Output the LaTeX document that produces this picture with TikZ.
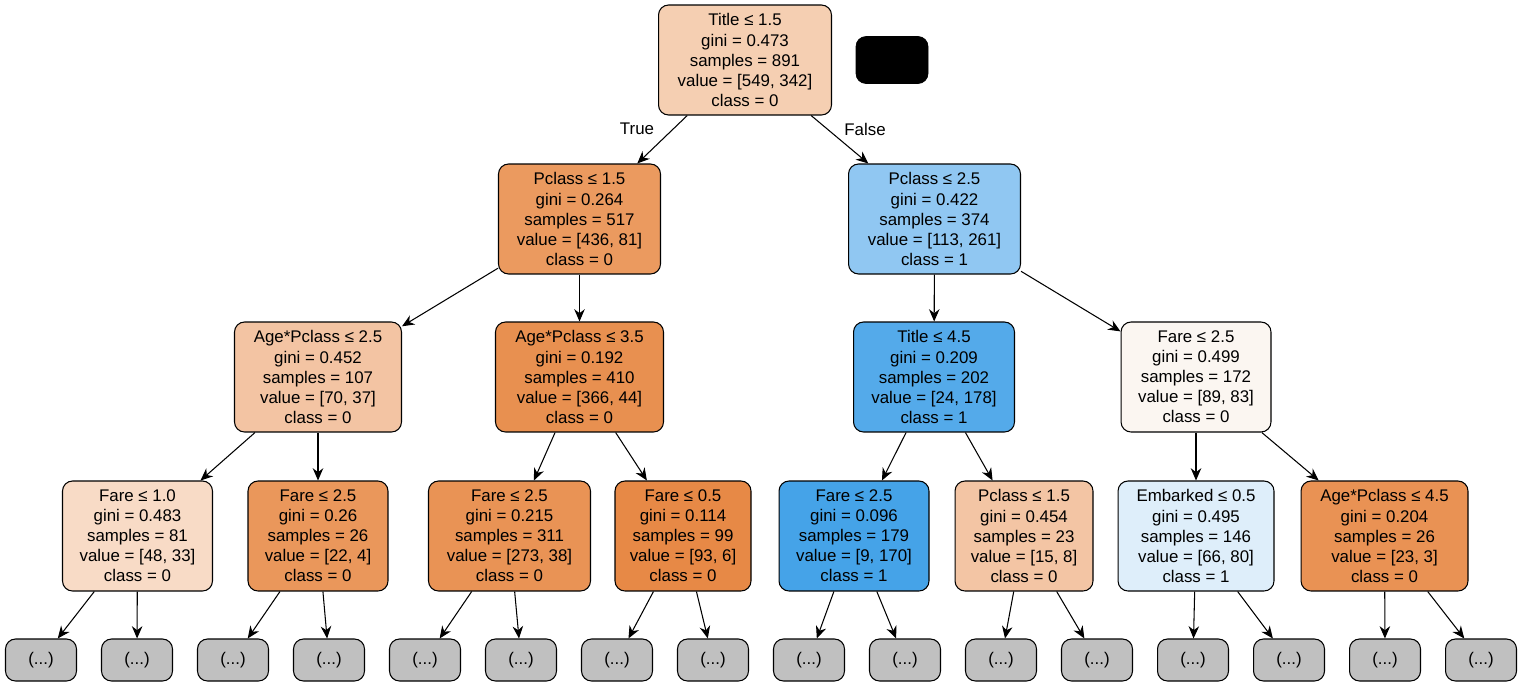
\documentclass[tikz,border=0pt]{standalone}
\usepackage{fontspec}
\setmainfont{Liberation Sans}
\usetikzlibrary{arrows.meta}
\begin{document}
\begin{tikzpicture}[x=0.02cm,y=-0.02cm,
 box/.style={draw,rounded corners=0.2cm,line width=0.6pt,align=center,minimum height=2.2cm,inner sep=1pt,font=\fontsize{9.6}{11.4}\selectfont},
 leaf/.style={draw,rounded corners=0.2cm,line width=0.6pt,fill=lg,minimum width=1.42cm,minimum height=0.84cm,font=\fontsize{9.6}{11.4}\selectfont},
 e/.style={-{Stealth[length=7pt,width=6pt]},line width=0.6pt},
 lab/.style={font=\fontsize{9.6}{11.4}\selectfont}]
\definecolor{lg}{HTML}{C0C0C0}
\useasboundingbox (0,0) rectangle (1523,693);
\node[box,fill={rgb,255:red,245;green,207;blue,178},minimum width=3.46cm] (n0) at (745,60) {Title ≤ 1.5\\gini = 0.473\\samples = 891\\value = [549, 342]\\class = 0};
\node[draw,fill=black,rounded corners=0.2cm,minimum width=1.44cm,minimum height=0.94cm] (blk) at (892,60) {};
\node[box,fill={rgb,255:red,235;green,154;blue,95},minimum width=3.24cm] (n1) at (579.5,219) {Pclass ≤ 1.5\\gini = 0.264\\samples = 517\\value = [436, 81]\\class = 0};
\node[box,fill={rgb,255:red,144;green,199;blue,242},minimum width=3.44cm] (n2) at (934.5,219) {Pclass ≤ 2.5\\gini = 0.422\\samples = 374\\value = [113, 261]\\class = 1};
\node[box,fill={rgb,255:red,243;green,196;blue,163},minimum width=3.34cm] (n3) at (318,377) {Age*Pclass ≤ 2.5\\gini = 0.452\\samples = 107\\value = [70, 37]\\class = 0};
\node[box,fill={rgb,255:red,232;green,144;blue,80},minimum width=3.36cm] (n4) at (579.5,377) {Age*Pclass ≤ 3.5\\gini = 0.192\\samples = 410\\value = [366, 44]\\class = 0};
\node[box,fill={rgb,255:red,84;green,170;blue,234},minimum width=3.22cm] (n5) at (934,377) {Title ≤ 4.5\\gini = 0.209\\samples = 202\\value = [24, 178]\\class = 1};
\node[box,fill={rgb,255:red,251;green,246;blue,241},minimum width=3.0cm] (n6) at (1196,377) {Fare ≤ 2.5\\gini = 0.499\\samples = 172\\value = [89, 83]\\class = 0};
\node[box,fill={rgb,255:red,248;green,219;blue,198},minimum width=3.0cm] (n7) at (137.5,536) {Fare ≤ 1.0\\gini = 0.483\\samples = 81\\value = [48, 33]\\class = 0};
\node[box,fill={rgb,255:red,234;green,151;blue,91},minimum width=2.8cm] (n8) at (318,536) {Fare ≤ 2.5\\gini = 0.26\\samples = 26\\value = [22, 4]\\class = 0};
\node[box,fill={rgb,255:red,233;green,147;blue,85},minimum width=3.24cm] (n9) at (509.5,536) {Fare ≤ 2.5\\gini = 0.215\\samples = 311\\value = [273, 38]\\class = 0};
\node[box,fill={rgb,255:red,231;green,137;blue,70},minimum width=2.72cm] (n10) at (683,536) {Fare ≤ 0.5\\gini = 0.114\\samples = 99\\value = [93, 6]\\class = 0};
\node[box,fill={rgb,255:red,69;green,163;blue,232},minimum width=3.0cm] (n11) at (854,536) {Fare ≤ 2.5\\gini = 0.096\\samples = 179\\value = [9, 170]\\class = 1};
\node[box,fill={rgb,255:red,243;green,197;blue,164},minimum width=2.76cm] (n12) at (1024,536) {Pclass ≤ 1.5\\gini = 0.454\\samples = 23\\value = [15, 8]\\class = 0};
\node[box,fill={rgb,255:red,222;green,238;blue,250},minimum width=3.12cm] (n13) at (1196,536) {Embarked ≤ 0.5\\gini = 0.495\\samples = 146\\value = [66, 80]\\class = 1};
\node[box,fill={rgb,255:red,233;green,146;blue,84},minimum width=3.34cm] (n14) at (1384.5,536) {Age*Pclass ≤ 4.5\\gini = 0.204\\samples = 26\\value = [23, 3]\\class = 0};
\foreach \i/\x in {1/41,2/137,3/233,4/329,5/425,6/521,7/617,8/713,9/809,10/905,11/1001,12/1097,13/1193,14/1289,15/1385,16/1481}
  \node[leaf] (l\i) at (\x,660) {(...)};
\draw[e] (n0) -- (n1);
\draw[e] (n0) -- (n2);
\node[lab] (t) at (637,129) {True};
\node[lab] (f) at (865,129) {False};
\draw[e] (n1) -- (n3);
\draw[e] (n1) -- (n4);
\draw[e] (n2) -- (n5);
\draw[e] (n2) -- (n6);
\draw[e] (n3) -- (n7);
\draw[e] (n3) -- (n8);
\draw[e] (n4) -- (n9);
\draw[e] (n4) -- (n10);
\draw[e] (n5) -- (n11);
\draw[e] (n5) -- (n12);
\draw[e] (n6) -- (n13);
\draw[e] (n6) -- (n14);
\foreach \p/\a/\b in {7/1/2,8/3/4,9/5/6,10/7/8,11/9/10,12/11/12,13/13/14,14/15/16}{
  \draw[e] (n\p) -- (l\a);
  \draw[e] (n\p) -- (l\b);
}
\end{tikzpicture}
\end{document}
